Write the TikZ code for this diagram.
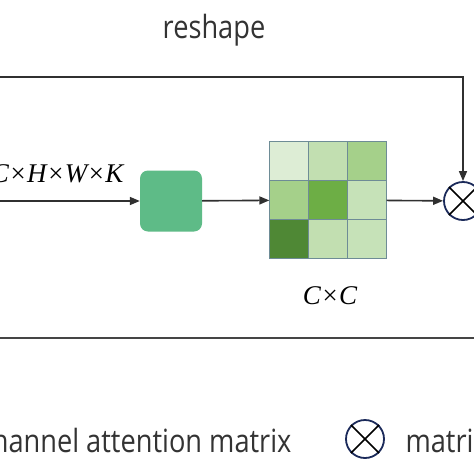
\documentclass[tikz,border=0pt]{standalone}
\usepackage{fontspec}
\setmainfont{Liberation Serif}
\newfontfamily\labfont[FakeStretch=0.85]{Open Sans}
\usetikzlibrary{arrows.meta}
\definecolor{linegray}{HTML}{303030}
\definecolor{textgray}{HTML}{333333}
\definecolor{boxgreen}{HTML}{5EBB87}
\definecolor{gridblue}{HTML}{6E8C96}
\definecolor{navy}{HTML}{1B2A5A}
\definecolor{ga}{HTML}{DDEDD5}
\definecolor{gb}{HTML}{C2DFB1}
\definecolor{gc}{HTML}{A5D08A}
\definecolor{gd}{HTML}{6DAE45}
\definecolor{ge}{HTML}{C6E2B8}
\definecolor{gf}{HTML}{4F8835}
\tikzset{
  flow/.style={draw=linegray, line width=1.6pt, -{Triangle[length=10pt,width=8pt]}},
  dimlabel/.style={font=\fontsize{27}{30}\selectfont\itshape},
  wordlabel/.style={text=textgray, font=\labfont\fontsize{32}{36}\selectfont},
  mulnode/.style={circle, draw=navy, line width=1.8pt, minimum size=38pt, inner sep=0pt},
  cellbox/.style={draw=gridblue, line width=1.1pt, minimum size=39pt, inner sep=0pt}
}
\begin{document}
\begin{tikzpicture}[x=1pt,y=-1pt]
  \clip (0,0) rectangle (474,474);
  \fill[white] (0,0) rectangle (474,474);
  \draw
    (214,38) node[wordlabel, anchor=base] (reshape){reshape}
    (127,182) node[dimlabel, anchor=base east] (inshape){C×H×W×K}
    (171,201) node[fill=boxgreen, rounded corners=8pt, minimum width=62pt, minimum height=61pt] (conv){}
    (328,200) node[minimum size=117pt, inner sep=0pt] (attn){}
    (330,304) node[dimlabel, anchor=base] (attnshape){C×C}
    (463,201) node[mulnode] (mul){}
    (295,452) node[wordlabel, anchor=base east] (legattn){Channel attention matrix}
    (365,439) node[mulnode] (legmul){}
    (402,452) node[wordlabel, anchor=base west] (legtext){matrix};
  \coordinate (inleft) at (-5,201);
  \coordinate (topleft) at (-5,77);
  \coordinate (topright) at (463,77);
  \foreach \row/\col/\clr in {0/0/ga, 0/1/gb, 0/2/gc, 1/0/gc, 1/1/gd, 1/2/ge, 2/0/gf, 2/1/gb, 2/2/ge}
    \node[cellbox, fill=\clr] (cell\row\col) at (289+39*\col, 161+39*\row) {};
  \foreach \n in {mul, legmul} {
    \draw[line width=1.6pt] (\n.45) -- (\n.225);
    \draw[line width=1.6pt] (\n.135) -- (\n.315);
  }
  \begin{scope}[flow]
    \draw (inleft) to (conv);
    \draw (conv) to (attn);
    \draw (attn) to (mul);
    \draw (topleft) -- (topright) -- (mul);
  \end{scope}
  \draw[draw=linegray!90, line width=2.2pt] (-5,338) -- (480,338);
\end{tikzpicture}
\end{document}
